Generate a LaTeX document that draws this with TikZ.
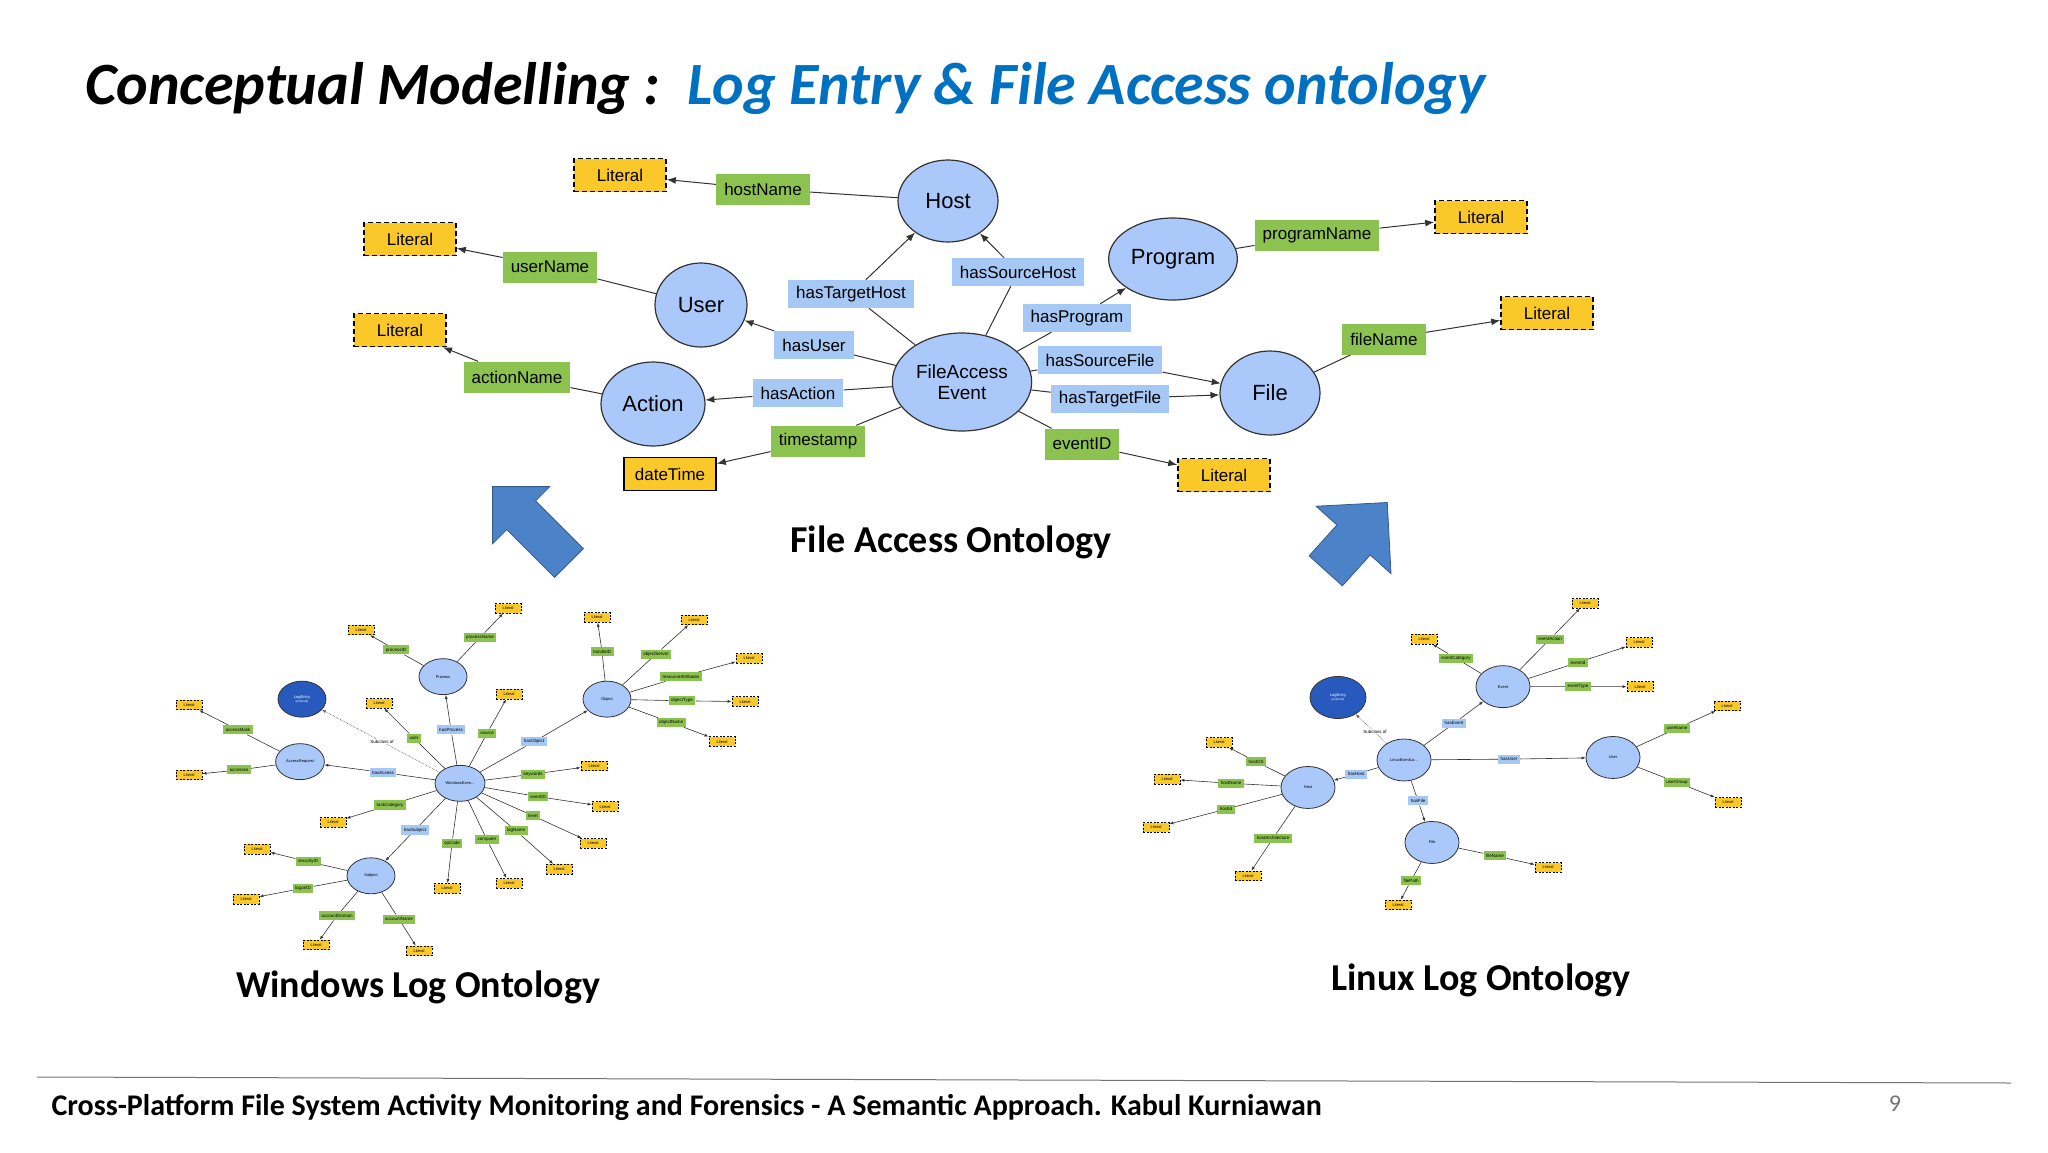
\documentclass[tikz,border=0pt]{standalone}
\usepackage{fontspec}
\setmainfont{Carlito}
\newfontfamily\dfont{Liberation Sans}
\usetikzlibrary{shapes.geometric,shapes.arrows,arrows.meta,backgrounds}
\definecolor{clsfill}{RGB}{170,200,250}
\definecolor{dpfill}{RGB}{140,195,80}
\definecolor{opfill}{RGB}{165,200,245}
\definecolor{litfill}{RGB}{250,200,40}
\definecolor{darkcls}{RGB}{40,90,190}
\definecolor{titleblue}{RGB}{0,112,192}
\definecolor{bigarrow}{RGB}{75,130,200}
\tikzset{
    cls/.style={ellipse, draw=black!80, line width=1.2pt, fill=clsfill, font=\dfont\fontsize{22}{24}\selectfont, align=center},
    dp/.style={rectangle, fill=dpfill, font=\dfont\fontsize{17}{19}\selectfont, inner xsep=8pt, minimum height=31pt},
    op/.style={rectangle, fill=opfill, font=\dfont\fontsize{17}{19}\selectfont, inner xsep=8pt, minimum height=28pt},
    lit/.style={rectangle, fill=litfill, draw=black, line width=1.6pt, dash pattern=on 5pt off 3pt, font=\dfont\fontsize{17}{19}\selectfont, minimum width=92pt, minimum height=33pt},
    arr/.style={-{Latex[length=9pt,width=7pt]}, line width=1pt, black!80},
    ln/.style={line width=1pt, black!80},
    scls/.style={ellipse, draw=black!80, line width=0.8pt, fill=clsfill, font=\dfont\fontsize{4}{5}\selectfont, minimum width=48pt, minimum height=36pt},
    sdp/.style={rectangle, fill=dpfill, font=\dfont\fontsize{4.5}{5}\selectfont, inner sep=2.5pt, minimum height=9pt},
    sop/.style={rectangle, fill=opfill, font=\dfont\fontsize{4.5}{5}\selectfont, inner sep=2.5pt, minimum height=9pt},
    slit/.style={rectangle, fill=litfill, draw=black, line width=0.8pt, dash pattern=on 2pt off 1.5pt, font=\dfont\fontsize{4}{5}\selectfont, minimum width=26pt, minimum height=8pt},
    sarr/.style={-{Latex[length=4pt,width=3pt]}, line width=0.6pt, black!80},
    sln/.style={line width=0.6pt, black!80},
    caption/.style={font=\bfseries\fontsize{38}{42}\selectfont},
    bigArr/.style={single arrow, fill=bigarrow, draw=bigarrow!70!black, line width=0.8pt},
}
\begin{document}
\begin{tikzpicture}[x=1pt,y=-1pt]
\useasboundingbox (0,0) rectangle (2048,1152);

% title
\node[anchor=west, font=\bfseries\itshape\fontsize{60}{66}\selectfont] (title) at (82,88)
    {Conceptual Modelling :\ \ \textcolor{titleblue}{Log Entry \& File Access ontology}};

% ---------- File Access Ontology ----------
\node[cls, minimum width=100pt, minimum height=82pt] (host) at (948,201) {Host};
\node[cls, minimum width=100pt, minimum height=82pt] (program) at (1173,259) {Program};
\node[cls, minimum width=92pt, minimum height=84pt] (user) at (701,305) {User};
\node[cls, minimum width=118pt, minimum height=98pt, font=\dfont\fontsize{19}{21}\selectfont] (fae) at (962,382) {FileAccess\\Event};
\node[cls, minimum width=104pt, minimum height=84pt] (action) at (653,404) {Action};
\node[cls, minimum width=100pt, minimum height=84pt] (file) at (1270,393) {File};

\node[dp] (hostName) at (763,189) {hostName};
\node[dp] (userName) at (550,267) {userName};
\node[dp] (actionName) at (517,377) {actionName};
\node[dp] (timestamp) at (818,441) {timestamp};
\node[dp] (programName) at (1317,235) {programName};
\node[dp] (fileName) at (1384,339) {fileName};
\node[dp] (eventID) at (1082,444) {eventID};

\node[op] (hasTargetHost) at (851,294) {hasTargetHost};
\node[op] (hasSourceHost) at (1018,272) {hasSourceHost};
\node[op] (hasProgram) at (1077,318) {hasProgram};
\node[op] (hasUser) at (814,345) {hasUser};
\node[op] (hasAction) at (798,393) {hasAction};
\node[op] (hasSourceFile) at (1100,360) {hasSourceFile};
\node[op] (hasTargetFile) at (1110,399) {hasTargetFile};

\node[lit] (litHostName) at (620,175) {Literal};
\node[lit] (litUserName) at (410,239) {Literal};
\node[lit] (litActionName) at (400,330) {Literal};
\node[lit] (litProgramName) at (1481,217) {Literal};
\node[lit] (litFileName) at (1547,313) {Literal};
\node[lit] (litEventID) at (1224,475) {Literal};
\node[lit, solid] (dateTime) at (670,474) {dateTime};

\begin{pgfonlayer}{background}
\draw[ln] (host) -- (hostName); \draw[arr] (hostName) -- (litHostName);
\draw[ln] (user) -- (userName); \draw[arr] (userName) -- (litUserName);
\draw[ln] (action) -- (actionName); \draw[arr] (actionName) -- (litActionName);
\draw[ln] (program) -- (programName); \draw[arr] (programName) -- (litProgramName);
\draw[ln] (file) -- (fileName); \draw[arr] (fileName) -- (litFileName);
\draw[ln] (fae) -- (eventID); \draw[arr] (eventID) -- (litEventID);
\draw[ln] (fae) -- (timestamp); \draw[arr] (timestamp) -- (dateTime);
\draw[ln] (fae) -- (hasTargetHost); \draw[arr] (hasTargetHost) -- (host);
\draw[ln] (fae) -- (hasSourceHost); \draw[arr] (hasSourceHost) -- (host);
\draw[ln] (fae) -- (hasProgram); \draw[arr] (hasProgram) -- (program);
\draw[ln] (fae) -- (hasUser); \draw[arr] (hasUser) -- (user);
\draw[ln] (fae) -- (hasAction); \draw[arr] (hasAction) -- (action);
\draw[ln] (fae) -- (hasSourceFile); \draw[arr] (hasSourceFile) -- (file);
\draw[ln] (fae) -- (hasTargetFile); \draw[arr] (hasTargetFile) -- (file);
\end{pgfonlayer}

\node[caption] (faoCaption) at (951,542) {File Access Ontology};

% big arrows
\node[bigArr, inner sep=20pt, minimum height=108pt, single arrow head extend=20pt, rotate=135] (leftArrow) at (538,532) {};
\node[bigArr, inner sep=22pt, minimum height=92pt, single arrow head extend=28pt, rotate=48] (rightArrow) at (1349,545) {};

% ---------- Windows Log Ontology ----------
\begin{scope}[shift={(0,98.33)}, yscale=0.8333]
\node[scls, minimum width=50pt] (we) at (460,822) {WindowsEven...};
\node[scls] (process) at (443,694) {Process};
\node[scls] (object) at (607,721) {Object};
\node[scls] (accessRequest) at (300,796) {AccessRequest};
\node[scls] (subject) at (371,933) {Subject};
\node[scls, fill=darkcls, text=white, align=center] (wLogEntry) at (302,721) {LogEntry\\[-1pt]\fontsize{3}{3}\selectfont(external)};

\node[sop] (hasProcess) at (451,758) {hasProcess};
\node[sop] (hasObject) at (534,772) {hasObject};
\node[sop] (hasAccess) at (383,809) {hasAccess};
\node[sop] (hasSubject) at (415,878) {hasSubject};
\node[font=\dfont\fontsize{4.5}{5}\selectfont, fill=white, inner sep=1pt] (wSub) at (382,772) {Subclass of};

\begin{pgfonlayer}{background}
\draw[sln] (we) -- (hasProcess); \draw[sarr] (hasProcess) -- (process);
\draw[sln] (we) -- (hasObject); \draw[sarr] (hasObject) -- (object);
\draw[sln] (we) -- (hasAccess); \draw[sarr] (hasAccess) -- (accessRequest);
\draw[sln] (we) -- (hasSubject); \draw[sarr] (hasSubject) -- (subject);
\draw[densely dotted, line width=0.6pt, black!70, -{Latex[open,length=4pt,width=3pt]}] (we) -- (wLogEntry);
\end{pgfonlayer}

\foreach \s/\n/\t/\x/\y/\lx/\ly in {
    process/a/processID/396/662/361/638,
    process/b/processName/480/647/508/612,
    we/c/user/414/768/379/726,
    we/d/source/487/762/509/715,
    object/e/handleID/602/664/597/623,
    object/f/objectServer/656/667/694/626,
    object/g/resourceAttributes/681/694/749/672,
    object/h/objectType/682/723/745/724,
    object/i/objectName/671/749/722/772,
    accessRequest/j/accessMask/238/758/189/728,
    accessRequest/k/accesses/239/806/189/812,
    we/l/keywords/533/811/594/801,
    we/m/eventID/538/838/605/850,
    we/n/level/533/861/593/894,
    we/o/logName/516/879/559/925,
    we/p/computer/487/890/509/942,
    we/q/opCode/452/894/447/948,
    we/r/taskCategory/390/848/333/869,
    subject/s/securityID/308/916/257/901,
    subject/t/logonID/303/948/246/961,
    subject/u/accountDomain/337/981/316/1016,
    subject/v/accountName/399/985/419/1023}{
    \node[sdp] (wdp\n) at (\x,\y) {\t};
    \node[slit] (wlit\n) at (\lx,\ly) {Literal};
    \begin{pgfonlayer}{background}
    \draw[sln] (\s) -- (wdp\n); \draw[sarr] (wdp\n) -- (wlit\n);
    \end{pgfonlayer}
}
\end{scope}

\node[caption] (winCaption) at (418,987) {Windows Log Ontology};

% ---------- Linux Log Ontology ----------
\begin{scope}[shift={(0,98.33)}, yscale=0.8333]
\node[scls, minimum width=54pt, minimum height=42pt] (lel) at (1404,794) {LinuxEventLo...};
\node[scls, minimum width=56pt, minimum height=42pt, fill=darkcls, text=white, align=center] (lLogEntry) at (1338,719) {LogEntry\\[-1pt]\fontsize{3}{3}\selectfont(external)};
\node[scls, minimum width=54pt, minimum height=42pt] (event) at (1503,706) {Event};
\node[scls, minimum width=54pt, minimum height=42pt] (luser) at (1613,791) {User};
\node[scls, minimum width=54pt, minimum height=42pt] (lhost) at (1308,827) {Host};
\node[scls, minimum width=54pt, minimum height=42pt] (lfile) at (1432,893) {File};

\node[sop] (hasEvent) at (1454,750) {hasEvent};
\node[sop] (lhasUser) at (1509,793) {hasUser};
\node[sop] (hasHost) at (1356,811) {hasHost};
\node[sop] (hasFile) at (1418,843) {hasFile};
\node[font=\dfont\fontsize{4.5}{5}\selectfont, fill=white, inner sep=1pt] (lSub) at (1375,760) {Subclass of};

\begin{pgfonlayer}{background}
\draw[sln] (lel) -- (hasEvent); \draw[sarr] (hasEvent) -- (event);
\draw[sln] (lel) -- (lhasUser); \draw[sarr] (lhasUser) -- (luser);
\draw[sln] (lel) -- (hasHost); \draw[sarr] (hasHost) -- (lhost);
\draw[sln] (lel) -- (hasFile); \draw[sarr] (hasFile) -- (lfile);
\draw[densely dotted, line width=0.6pt, black!70, -{Latex[open,length=4pt,width=3pt]}] (lel) -- (lLogEntry);
\end{pgfonlayer}

\foreach \s/\n/\t/\x/\y/\lx/\ly in {
    event/a/eventCategory/1456/672/1424/649,
    event/b/eventAction/1550/649/1585/606,
    event/c/eventId/1578/677/1639/653,
    event/d/eventType/1578/706/1640/706,
    luser/e/userName/1677/756/1727/729,
    luser/f/userGroup/1677/821/1728/845,
    lhost/g/hostOS/1256/796/1219/773,
    lhost/h/hostName/1231/822/1167/817,
    lhost/i/hostId/1226/853/1156/875,
    lhost/j/hostArchitecture/1273/888/1248/933,
    lfile/k/fileName/1495/909/1548/923,
    lfile/l/filePath/1411/939/1398/968}{
    \node[sdp] (ldp\n) at (\x,\y) {\t};
    \node[slit] (llit\n) at (\lx,\ly) {Literal};
    \begin{pgfonlayer}{background}
    \draw[sln] (\s) -- (ldp\n); \draw[sarr] (ldp\n) -- (llit\n);
    \end{pgfonlayer}
}
\end{scope}

\node[caption] (linCaption) at (1481,980) {Linux Log Ontology};

% footer
\coordinate (footL) at (37,1077);
\coordinate (footR) at (2011,1083);
\draw[black!55, line width=1pt] (footL) -- (footR);
\node[anchor=west, font=\bfseries\fontsize{30}{34}\selectfont] (footer) at (48,1107)
    {Cross-Platform File System Activity Monitoring and Forensics - A Semantic Approach. Kabul Kurniawan};
\node[font=\fontsize{24}{28}\selectfont, text=black!55] (pageNo) at (1895,1104) {9};
\end{tikzpicture}
\end{document}
